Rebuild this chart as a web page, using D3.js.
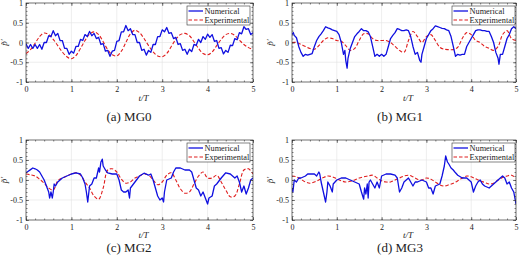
<!DOCTYPE html>
<html>
<head>
<meta charset="utf-8">
<script src="https://cdn.jsdelivr.net/npm/d3@7"></script>
<style>
  body { margin: 0; background: #fff; }
  svg { display: block; }
  text { font-family: "Liberation Serif", "DejaVu Serif", serif; fill: #222; }
</style>
</head>
<body>
<div id="chart"></div>
<script>
const xTicks = [0, 1, 2, 3, 4, 5];
const yTicks = [-1, -0.5, 0, 0.5, 1];
const yTickLabels = ["-1", "-0.5", "0", "0.5", "1"];
const seriesNames = ["Numerical", "Experimental"];
const captions = ["(a) MG0", "(b) MG1", "(c) MG2", "(d) MG3"];

// numerical series: [t/T, p'] pairs
const mg0Numerical = [[0,-0.03],[0.05,-0.15],[0.1,-0.05],[0.15,-0.15],[0.2,-0.05],[0.25,-0.15],[0.3,-0.05],[0.35,-0.17],[0.4,0],[0.45,0],
  [0.5,0.17],[0.55,0.15],[0.6,0.3],[0.65,0.17],[0.7,0.23],[0.75,0.05],[0.8,0.05],[0.85,-0.15],[0.9,-0.15],[0.95,-0.3],
  [1,-0.22],[1.05,-0.27],[1.1,-0.1],[1.15,-0.1],[1.2,0.08],[1.25,0.05],[1.3,0.2],[1.35,0.15],[1.4,0.28],[1.45,0.17],
  [1.5,0.23],[1.55,0.1],[1.6,0.13],[1.65,-0.05],[1.7,-0.03],[1.75,-0.22],[1.8,-0.2],[1.85,-0.35],[1.9,-0.22],[1.95,-0.2],
  [2,0.03],[2.05,0.05],[2.1,0.27],[2.15,0.27],[2.2,0.43],[2.25,0.3],[2.3,0.35],[2.35,0.2],[2.4,0.2],[2.45,0],
  [2.5,0],[2.55,-0.2],[2.6,-0.17],[2.65,-0.32],[2.7,-0.2],[2.75,-0.25],[2.8,-0.05],[2.85,-0.05],[2.9,0.15],[2.95,0.15],
  [3,0.32],[3.05,0.27],[3.1,0.38],[3.15,0.23],[3.2,0.25],[3.25,0.1],[3.3,0.13],[3.35,-0.05],[3.4,-0.03],[3.45,-0.2],
  [3.5,-0.17],[3.55,-0.3],[3.6,-0.17],[3.65,-0.23],[3.7,-0.05],[3.75,-0.07],[3.8,0.08],[3.85,0],[3.9,0.15],[3.95,0.08],
  [4,0.21],[4.05,0.13],[4.1,0.2],[4.15,0.03],[4.2,0.05],[4.25,-0.15],[4.3,-0.13],[4.35,-0.29],[4.4,-0.2],[4.45,-0.25],
  [4.5,-0.07],[4.55,-0.08],[4.6,0.1],[4.65,0.07],[4.7,0.25],[4.75,0.22],[4.8,0.4],[4.85,0.33],[4.9,0.35],[4.95,0.2],[5,0.25]];

const mg1Numerical = [[0,0.2],[0.03,0.25],[0.05,0.18],[0.1,0.12],[0.15,-0.1],[0.2,-0.25],[0.25,-0.35],[0.3,-0.3],[0.35,-0.32],[0.4,-0.3],
  [0.45,-0.28],[0.5,-0.1],[0.55,0.05],[0.6,0.15],[0.65,0.22],[0.7,0.3],[0.75,0.4],[0.8,0.37],[0.85,0.35],[0.9,0.32],
  [0.95,0.3],[1,0.28],[1.05,0.2],[1.1,0],[1.15,-0.3],[1.18,-0.2],[1.2,-0.45],[1.23,-0.65],[1.25,-0.4],[1.3,-0.15],
  [1.35,0],[1.4,0.15],[1.45,0.22],[1.5,0.28],[1.55,0.35],[1.6,0.3],[1.65,0.3],[1.7,0.27],[1.75,0.15],[1.8,-0.1],
  [1.85,-0.35],[1.9,-0.3],[1.95,-0.35],[2,-0.3],[2.05,-0.35],[2.1,-0.3],[2.15,-0.1],[2.2,0.1],[2.25,0.18],[2.3,0.25],
  [2.35,0.35],[2.4,0.33],[2.45,0.3],[2.5,0.3],[2.55,0.32],[2.6,0.3],[2.65,0.15],[2.7,-0.1],[2.75,-0.3],[2.8,-0.25],
  [2.85,-0.45],[2.88,-0.5],[2.9,-0.3],[2.95,-0.1],[3,0.1],[3.05,0.2],[3.1,0.3],[3.15,0.35],[3.2,0.42],[3.25,0.4],
  [3.3,0.38],[3.35,0.36],[3.4,0.35],[3.45,0.32],[3.5,0.3],[3.55,0.15],[3.6,-0.1],[3.65,-0.35],[3.7,-0.3],[3.75,-0.32],
  [3.8,-0.3],[3.85,-0.3],[3.9,-0.1],[3.95,0],[4,0.1],[4.05,0.2],[4.1,0.3],[4.15,0.32],[4.2,0.32],[4.25,0.3],
  [4.3,0.3],[4.35,0.28],[4.4,0.28],[4.45,0.15],[4.5,0],[4.55,-0.25],[4.6,-0.4],[4.62,-0.55],[4.65,-0.3],[4.7,-0.3],
  [4.75,-0.1],[4.8,0.1],[4.85,0.2],[4.9,0.35],[4.95,0.4],[5,0.35]];

const mg2Numerical = [[0,0.18],[0.05,0.22],[0.1,0.26],[0.15,0.3],[0.2,0.28],[0.25,0.25],[0.3,0.2],[0.35,0.1],[0.4,0],[0.45,-0.15],
  [0.5,-0.3],[0.52,-0.45],[0.55,-0.3],[0.58,-0.45],[0.6,-0.3],[0.62,-0.1],[0.65,-0.15],[0.7,-0.05],[0.75,0],[0.8,0.05],
  [0.9,0.1],[1,0.15],[1.1,0.18],[1.2,0.15],[1.25,0.05],[1.3,-0.1],[1.33,-0.3],[1.36,-0.55],[1.4,-0.15],[1.45,-0.1],
  [1.5,0.05],[1.55,0.05],[1.6,0.3],[1.62,0.2],[1.65,0.45],[1.68,0.52],[1.7,0.35],[1.75,0.25],[1.8,0.18],[1.9,0.15],
  [2,0.15],[2.05,0],[2.1,-0.25],[2.15,-0.3],[2.2,-0.3],[2.25,-0.25],[2.28,-0.45],[2.3,-0.2],[2.4,-0.05],[2.5,0.1],
  [2.6,0.17],[2.7,0.12],[2.75,0.15],[2.8,0],[2.85,-0.2],[2.9,-0.4],[2.95,-0.5],[3,-0.45],[3.03,-0.55],[3.05,-0.3],
  [3.1,0],[3.2,0.05],[3.25,0.2],[3.3,0.3],[3.4,0.3],[3.5,0.25],[3.6,0.25],[3.65,0.2],[3.7,0],[3.75,-0.2],
  [3.8,-0.25],[3.85,-0.4],[3.9,-0.3],[3.95,-0.45],[4,-0.6],[4.03,-0.45],[4.1,-0.4],[4.15,-0.15],[4.2,-0.1],[4.3,0.05],
  [4.4,0.18],[4.5,0.15],[4.6,0.05],[4.65,0.1],[4.7,-0.05],[4.75,-0.3],[4.8,-0.15],[4.85,-0.35],[4.9,-0.2],[4.95,0],[5,0.05]];

const mg3Numerical = [[0,-0.2],[0.02,-0.3],[0.05,0],[0.1,-0.05],[0.15,0.05],[0.2,0.05],[0.3,0.1],[0.35,0.15],[0.4,0.15],[0.5,0.15],
  [0.55,0.1],[0.6,0.2],[0.62,0.15],[0.65,-0.05],[0.7,-0.3],[0.72,-0.4],[0.75,-0.55],[0.78,-0.3],[0.8,-0.05],[0.85,-0.15],
  [0.9,-0.3],[0.92,-0.1],[1,0],[1.1,0.05],[1.2,0.05],[1.3,0],[1.4,-0.05],[1.5,-0.1],[1.55,-0.3],[1.6,-0.48],
  [1.62,-0.2],[1.65,-0.35],[1.68,-0.1],[1.7,-0.45],[1.72,-0.05],[1.75,0],[1.8,-0.1],[1.85,-0.2],[1.9,-0.05],[1.95,-0.2],
  [2,0.1],[2.1,0.15],[2.2,0.15],[2.3,0.12],[2.35,0.05],[2.4,-0.3],[2.45,-0.2],[2.5,-0.05],[2.6,0.05],[2.7,-0.15],
  [2.75,-0.05],[2.8,-0.05],[2.9,0],[3,-0.05],[3.05,-0.2],[3.1,-0.2],[3.15,-0.35],[3.2,-0.15],[3.3,-0.1],[3.35,0.1],
  [3.4,0.35],[3.43,0.6],[3.47,0.45],[3.5,0.4],[3.55,0.3],[3.6,0.25],[3.65,0.18],[3.7,0.12],[3.8,0.05],[3.9,0.05],
  [4,-0.05],[4.05,-0.3],[4.1,-0.15],[4.15,-0.05],[4.2,0],[4.25,-0.1],[4.3,-0.15],[4.4,-0.2],[4.5,-0.1],[4.6,0],
  [4.7,0.1],[4.75,0.05],[4.8,-0.1],[4.85,-0.05],[4.9,-0.2],[4.95,-0.3],[5,-0.6]];

// experimental series, sampled every 0.1 t/T from 0 to 5
const mg0Experimental = [-0.28,-0.18,-0.02,0.15,0.24,0.2,0.08,-0.08,-0.24,-0.36,-0.41,-0.33,-0.15,0.05,0.21,0.27,0.2,0.02,-0.18,-0.31,
  -0.34,-0.22,0,0.22,0.31,0.25,0.1,-0.08,-0.24,-0.34,-0.36,-0.28,-0.1,0.08,0.2,0.23,0.17,0.02,-0.15,-0.28,
  -0.31,-0.24,-0.08,0.08,0.2,0.23,0.18,0.06,-0.05,-0.13,-0.18];
const mg1Experimental = [0,0,-0.05,-0.1,-0.15,-0.17,-0.08,0.05,0.12,0.1,0.05,0.03,-0.08,-0.2,-0.15,0.05,0.22,0.22,0.1,0.05,
  0.05,0.05,0,-0.1,-0.2,-0.25,0.05,0.28,0.15,0,0.15,0.2,0.05,-0.12,-0.17,-0.18,-0.18,-0.12,0.1,0.25,
  0.2,0.05,0,-0.1,-0.15,-0.2,-0.1,0.2,0.3,0.1,0.05];
const mg2Experimental = [0.15,0.13,0.1,0.02,-0.08,-0.2,-0.25,-0.02,0.05,0.1,0.15,0.18,0.12,-0.05,-0.2,-0.4,-0.48,-0.2,0.25,0.28,
  0.2,0.02,-0.08,-0.05,0.05,0.1,0.15,0.12,0,-0.12,-0.05,0.12,0.18,0,-0.22,-0.33,-0.3,-0.1,0.1,0.2,
  0.05,0.05,0.12,-0.05,-0.25,-0.42,-0.4,-0.1,0.25,0.28,0.15];
const mg3Experimental = [0.1,0.08,0.02,-0.05,-0.08,-0.05,0,0.06,0.1,0.08,0.03,-0.02,-0.05,-0.03,0,0.05,0.08,0.1,0.12,0.05,
  -0.02,-0.05,-0.05,0,0.05,0.1,0.12,0.08,0.02,0,0.05,0.02,-0.05,-0.12,-0.15,-0.12,-0.08,-0.02,0.05,0.1,
  0.08,0.03,-0.02,-0.06,-0.1,-0.08,0,0.06,0.1,0.12,0.05];
const expStep = 0.1;

const W = 520, H = 262;
const panels = [
  { box: [26, 253, 3, 82], num: mg0Numerical, exp: mg0Experimental, cap: captions[0], capX: 129, capY: 121, labY: 101, legX: 187, legY: 6 },
  { box: [292, 516, 3, 82], num: mg1Numerical, exp: mg1Experimental, cap: captions[1], capX: 400, capY: 121, labY: 101, legX: 452, legY: 6 },
  { box: [26, 253, 140, 220], num: mg2Numerical, exp: mg2Experimental, cap: captions[2], capX: 129, capY: 252, labY: 238, legX: 187, legY: 143 },
  { box: [292, 516, 140, 220], num: mg3Numerical, exp: mg3Experimental, cap: captions[3], capX: 400, capY: 252, labY: 238, legX: 452, legY: 143 }
];

const blue = "#1010e0", red = "#e01e1e";

const svg = d3.select("#chart").append("svg").attr("width", W).attr("height", H);

panels.forEach((p, i) => {
  const [x0, x1, y0, y1] = p.box;
  const x = d3.scaleLinear().domain([0, 5]).range([x0, x1]);
  const y = d3.scaleLinear().domain([-1, 1]).range([y1, y0]);
  const g = svg.append("g");

  // grid
  g.selectAll(".gx").data(xTicks.slice(1, -1)).enter().append("line")
    .attr("x1", d => x(d)).attr("x2", d => x(d)).attr("y1", y0).attr("y2", y1)
    .attr("stroke", "#e3e3e3").attr("stroke-width", 0.6);
  g.selectAll(".gy").data(yTicks.slice(1, -1)).enter().append("line")
    .attr("y1", d => y(d)).attr("y2", d => y(d)).attr("x1", x0).attr("x2", x1)
    .attr("stroke", "#e3e3e3").attr("stroke-width", 0.6);

  // clip
  const cid = "clip" + i;
  g.append("clipPath").attr("id", cid).append("rect")
    .attr("x", x0).attr("y", y0).attr("width", x1 - x0).attr("height", y1 - y0);

  const line = d3.line().x(d => x(d[0])).y(d => y(d[1]));
  const expPts = p.exp.map((v, k) => [k * expStep, v]);

  g.append("path").datum(expPts)
    .attr("clip-path", `url(#${cid})`)
    .attr("d", line.curve(d3.curveCatmullRom))
    .attr("fill", "none").attr("stroke", red).attr("stroke-width", 1.1)
    .attr("stroke-dasharray", "3.5,2");

  g.append("path").datum(p.num)
    .attr("clip-path", `url(#${cid})`)
    .attr("d", line.curve(d3.curveLinear))
    .attr("fill", "none").attr("stroke", blue).attr("stroke-width", 1.3)
    .attr("stroke-linejoin", "round");

  // axes (inward ticks on all sides)
  const minorX = d3.range(0, 5.001, 0.2);
  const minorY = d3.range(-1, 1.001, 0.1);
  const styleAxis = sel => {
    sel.select(".domain").remove();
    sel.selectAll("line").attr("stroke", "#333").attr("stroke-width", 0.6);
    sel.selectAll("text").attr("font-size", 8).attr("fill", "#222")
      .style("font-family", '"Liberation Serif", serif');
  };
  g.append("g").attr("transform", `translate(0,${y1})`)
    .call(d3.axisBottom(x).tickValues(xTicks).tickSize(-3).tickPadding(4).tickFormat(d3.format("d")))
    .call(styleAxis);
  g.append("g").attr("transform", `translate(0,${y1})`)
    .call(d3.axisBottom(x).tickValues(minorX).tickSize(-1.5).tickFormat(""))
    .call(styleAxis);
  g.append("g").attr("transform", `translate(0,${y0})`)
    .call(d3.axisTop(x).tickValues(xTicks).tickSize(-3).tickFormat(""))
    .call(styleAxis);
  g.append("g").attr("transform", `translate(0,${y0})`)
    .call(d3.axisTop(x).tickValues(minorX).tickSize(-1.5).tickFormat(""))
    .call(styleAxis);
  g.append("g").attr("transform", `translate(${x0},0)`)
    .call(d3.axisLeft(y).tickValues(yTicks).tickSize(-3).tickPadding(3).tickFormat((d, k) => yTickLabels[k]))
    .call(styleAxis);
  g.append("g").attr("transform", `translate(${x0},0)`)
    .call(d3.axisLeft(y).tickValues(minorY).tickSize(-1.5).tickFormat(""))
    .call(styleAxis);
  g.append("g").attr("transform", `translate(${x1},0)`)
    .call(d3.axisRight(y).tickValues(yTicks).tickSize(-3).tickFormat(""))
    .call(styleAxis);
  g.append("g").attr("transform", `translate(${x1},0)`)
    .call(d3.axisRight(y).tickValues(minorY).tickSize(-1.5).tickFormat(""))
    .call(styleAxis);

  g.append("rect").attr("x", x0).attr("y", y0).attr("width", x1 - x0).attr("height", y1 - y0)
    .attr("fill", "none").attr("stroke", "#333").attr("stroke-width", 0.7);

  // axis labels
  g.append("text").attr("x", (x0 + x1) / 2 + 4).attr("y", p.labY)
    .attr("text-anchor", "middle").attr("font-size", 9).attr("font-style", "italic")
    .text("t/T");
  g.append("text")
    .attr("transform", `translate(${x0 - 19},${(y0 + y1) / 2}) rotate(-90)`)
    .attr("text-anchor", "middle").attr("font-size", 9).attr("font-style", "italic")
    .text("p̃′");

  // legend
  const lw = 63, lh = 19;
  const leg = g.append("g").attr("transform", `translate(${p.legX},${p.legY})`);
  leg.append("rect").attr("width", lw).attr("height", lh)
    .attr("fill", "#fff").attr("stroke", "#333").attr("stroke-width", 0.6);
  [blue, red].forEach((c, k) => {
    const ly = 5 + k * 9;
    leg.append("line").attr("x1", 1.5).attr("x2", 16).attr("y1", ly).attr("y2", ly)
      .attr("stroke", c).attr("stroke-width", k ? 1.1 : 1.3)
      .attr("stroke-dasharray", k ? "3.5,2" : null);
    leg.append("text").attr("x", 17.5).attr("y", ly + 2.6).attr("font-size", 8.3).text(seriesNames[k]);
  });

  // caption
  g.append("text").attr("x", p.capX).attr("y", p.capY)
    .attr("text-anchor", "middle").attr("font-size", 13).text(p.cap);
});
</script>
</body>
</html>
